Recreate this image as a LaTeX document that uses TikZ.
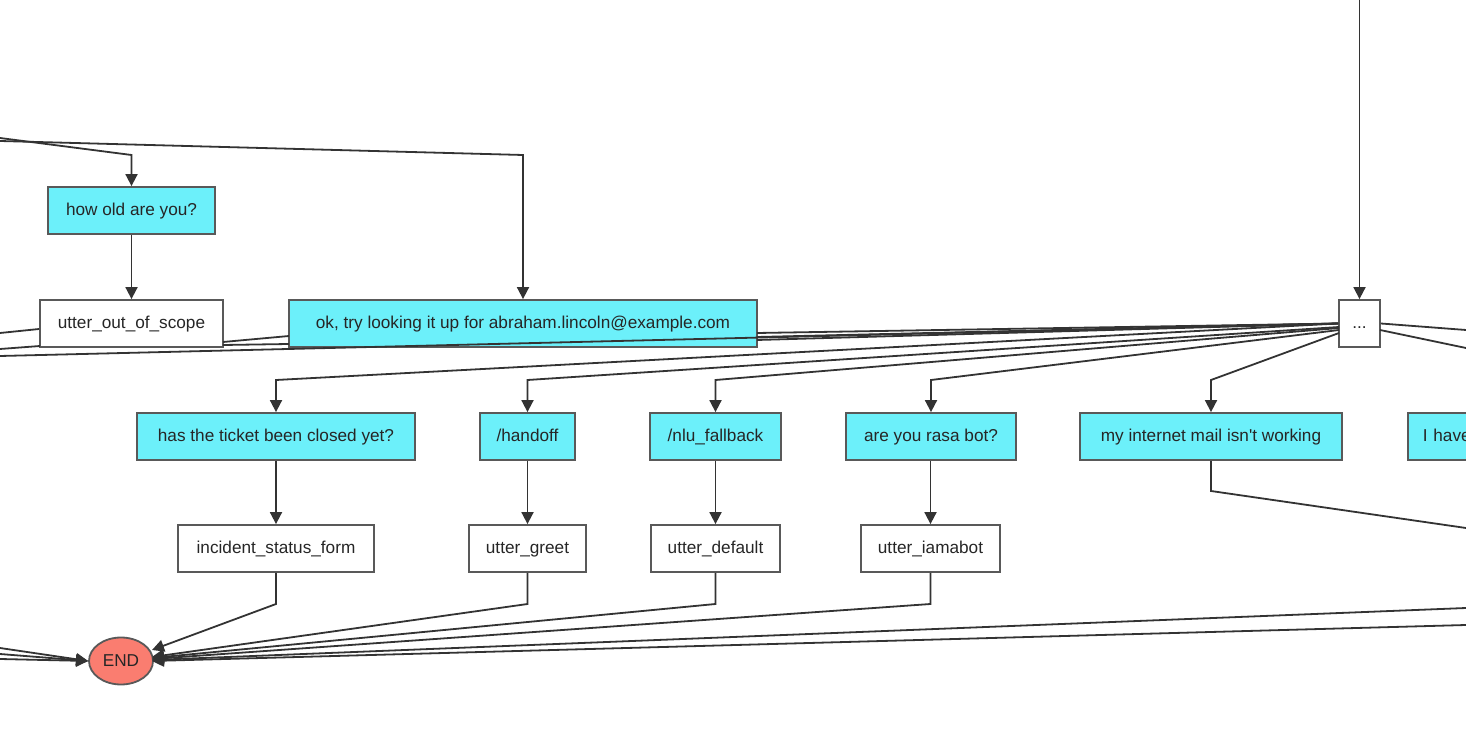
\documentclass[tikz,border=0pt]{standalone}
\usepackage{fontspec}
\setmainfont{Liberation Sans}[Ligatures=NoCommon]
\usetikzlibrary{arrows.meta,shapes.geometric}
\definecolor{qc}{HTML}{6CF0FA}
\definecolor{ec}{HTML}{FA7D70}
\begin{document}
\begin{tikzpicture}[x=0.5pt,y=-0.5pt,
  every node/.style={font=\fontsize{8.6}{10}\selectfont, text=black!85, text height=6.6pt, text depth=1.6pt},
  ln/.style={draw=black!80, line width=0.9pt},
  ar/.style={ln, -{Triangle[length=6pt,width=6pt]}},
  q/.style={draw=black!65, fill=qc, line width=0.9pt, minimum height=23.5pt, inner sep=0pt, rectangle},
  a/.style={draw=black!65, fill=white, line width=0.9pt, minimum height=23.5pt, inner sep=0pt, rectangle}]
\useasboundingbox (0,0) rectangle (1466,742);
\clip (0,0) rectangle (1466,742);
\node[q, minimum width=83.5pt] (howold) at (131.5,210.5) {how old are you?};
\node[a, minimum width=91.5pt] (oos) at (131.5,323.5) {utter\_out\_of\_scope};
\node[q, minimum width=234pt] (ok) at (523,323.5) {ok, try looking it up for abraham.lincoln@example.com};
\node[a, minimum width=20.5pt] (dots) at (1359.5,323.5) {...};
\node[q, minimum width=139pt] (tick) at (276,436.5) {has the ticket been closed yet?};
\node[q, minimum width=47.5pt] (hand) at (527.5,436.5) {/handoff};
\node[q, minimum width=65.5pt] (nlu) at (715.5,436.5) {/nlu\_fallback};
\node[q, minimum width=85pt] (rasa) at (931,436.5) {are you rasa bot?};
\node[q, minimum width=131pt] (mail) at (1211,436.5) {my internet mail isn\textquotesingle t working};
\node[q, minimum width=80pt, anchor=west, text width=76pt, align=left] (have) at (1407,436.5) {\hspace*{5.5pt}I have};
\node[a, minimum width=98pt] (inc) at (276,548.5) {incident\_status\_form};
\node[a, minimum width=58.5pt] (greet) at (527.5,548.5) {utter\_greet};
\node[a, minimum width=64.5pt] (def) at (715.5,548.5) {utter\_default};
\node[a, minimum width=69.5pt] (bot) at (930.5,548.5) {utter\_iamabot};
\node[ellipse, draw=black!65, fill=ec, line width=0.9pt, minimum width=32pt, minimum height=23.5pt, inner sep=0pt] (end) at (121,661) {END};
\coordinate (L1) at (0,138); \coordinate (L2) at (0,141);
\draw[ar] (L1) -- (131.5,155) -- (howold.north);
\draw[ar] (L2) -- (523,155) -- (ok.north);
\draw[ar] (howold) -- (oos);
\draw[ar] (1359.5,0) -- (dots.north);
\draw[ln] (oos.west |- 0,329) -- (0,333);
\draw[ln] (223,342) -- (289,336);
\draw[ln] (0,349) -- (40,346);
\draw[ln] (223,345) -- (289,344);
\draw[ln] (0,356) -- (dots.west);
\draw[ln] (757,337) -- (dots.west);
\draw[ln] (757,340) -- (dots.west);
\draw[ln] (757,333) -- (dots.west);
\draw[ln] (dots.east) -- (1466,330);
\draw[ln] (1380,330) -- (1466,348);
\draw[ar] (dots.west) -- (276,380) -- (tick.north);
\draw[ar] (1339,327) -- (527.5,380) -- (hand.north);
\draw[ar] (1339,328) -- (715.5,380) -- (nlu.north);
\draw[ar] (1339,330) -- (931,380) -- (rasa.north);
\draw[ar] (1339,333) -- (1211,380) -- (mail.north);
\draw[ar] (tick) -- (inc);
\draw[ar] (hand) -- (greet);
\draw[ar] (nlu) -- (def);
\draw[ar] (rasa.south -| bot) -- (bot);
\draw[ln] (mail.south) -- (1211,491) -- (1466,528);
\draw[ar] (inc.south) -- (276,604) -- (152,650);
\draw[ar] (greet.south) -- (527.5,604) -- (152,657);
\draw[ar] (def.south) -- (715.5,604) -- (152,658);
\draw[ar] (bot.south) -- (930.5,604) -- (152,659);
\draw[ar] (1466,608) -- (152,660);
\draw[ar] (1466,625) -- (152,661);
\draw[ar] (0,648) -- (end.west);
\draw[ar] (0,654) -- (end.west);
\draw[ar] (0,659) -- (end.west);
\end{tikzpicture}
\end{document}
